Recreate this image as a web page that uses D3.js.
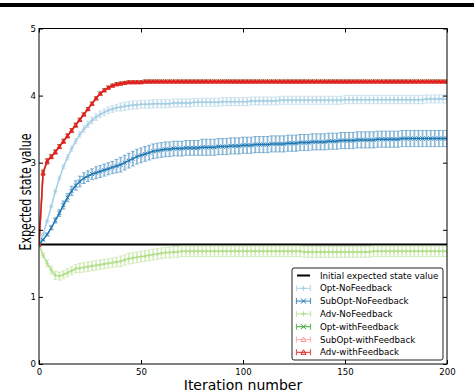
<!DOCTYPE html>
<html><head><meta charset="utf-8">
<script src="https://cdn.jsdelivr.net/npm/d3@7"></script>
<style>body{margin:0;background:#fff} svg{display:block} text{font-family:"DejaVu Sans",sans-serif;fill:#000}</style>
</head><body><svg id="c" width="474" height="392"></svg>
<script>
// ---------- data ----------
const iterations = d3.range(0, 201, 2);
const xTicks = [0, 50, 100, 150, 200];
const yTicks = [0, 1, 2, 3, 4, 5];
const initialValue = 1.78;

const optNoFeedback = [
 1.78,1.93,2.13,2.35,2.57,2.77,2.94,3.08,3.21,3.32,
 3.42,3.50,3.57,3.63,3.68,3.72,3.75,3.78,3.80,3.82,
 3.83,3.84,3.85,3.86,3.86,3.87,3.87,3.87,3.88,3.88,
 3.88,3.88,3.88,3.89,3.89,3.89,3.89,3.89,3.90,3.90,
 3.90,3.90,3.90,3.90,3.90,3.91,3.91,3.91,3.91,3.91,
 3.91,3.91,3.92,3.92,3.92,3.92,3.92,3.92,3.92,3.93,
 3.93,3.93,3.93,3.93,3.93,3.93,3.93,3.93,3.93,3.93,
 3.93,3.93,3.93,3.93,3.93,3.94,3.94,3.94,3.94,3.94,
 3.94,3.94,3.94,3.94,3.94,3.94,3.94,3.94,3.94,3.94,
 3.94,3.94,3.94,3.94,3.94,3.95,3.95,3.95,3.95,3.95,
 3.95];
const optNoFeedbackErr = [
 0.00,0.01,0.02,0.02,0.03,0.03,0.03,0.04,0.04,0.04,
 0.04,0.05,0.05,0.05,0.05,0.05,0.05,0.05,0.05,0.05,
 0.06,0.06,0.06,0.06,0.06,0.06,0.06,0.06,0.06,0.06,
 0.06,0.06,0.06,0.06,0.06,0.06,0.06,0.06,0.06,0.06,
 0.06,0.06,0.06,0.06,0.06,0.06,0.06,0.06,0.06,0.06,
 0.06,0.06,0.06,0.06,0.06,0.06,0.06,0.06,0.06,0.06,
 0.06,0.06,0.06,0.06,0.06,0.06,0.06,0.06,0.06,0.06,
 0.06,0.06,0.06,0.06,0.06,0.06,0.06,0.06,0.06,0.06,
 0.06,0.06,0.06,0.06,0.06,0.06,0.06,0.06,0.06,0.06,
 0.06,0.06,0.06,0.06,0.06,0.06,0.06,0.06,0.06,0.06,
 0.06];

const subOptNoFeedback = [
 1.78,1.85,1.93,2.03,2.14,2.25,2.37,2.48,2.58,2.66,
 2.72,2.77,2.80,2.83,2.85,2.87,2.89,2.91,2.93,2.95,
 2.97,3.00,3.03,3.06,3.09,3.11,3.13,3.15,3.17,3.18,
 3.19,3.20,3.20,3.21,3.21,3.21,3.22,3.22,3.22,3.22,
 3.23,3.23,3.23,3.23,3.24,3.24,3.24,3.25,3.25,3.25,
 3.26,3.26,3.26,3.27,3.27,3.27,3.27,3.28,3.28,3.28,
 3.28,3.29,3.29,3.29,3.30,3.30,3.30,3.31,3.31,3.31,
 3.31,3.32,3.32,3.32,3.33,3.33,3.33,3.33,3.34,3.34,
 3.34,3.34,3.34,3.35,3.35,3.35,3.35,3.35,3.35,3.36,
 3.36,3.36,3.36,3.36,3.36,3.36,3.36,3.36,3.36,3.36,
 3.36];
const subOptNoFeedbackErr = [
 0.00,0.01,0.02,0.03,0.04,0.05,0.06,0.06,0.07,0.07,
 0.08,0.08,0.08,0.08,0.09,0.09,0.09,0.09,0.09,0.10,
 0.11,0.11,0.11,0.11,0.11,0.11,0.11,0.11,0.11,0.11,
 0.11,0.11,0.11,0.11,0.11,0.11,0.11,0.11,0.11,0.11,
 0.12,0.12,0.12,0.12,0.12,0.12,0.12,0.12,0.12,0.12,
 0.12,0.12,0.12,0.12,0.12,0.12,0.12,0.12,0.12,0.12,
 0.12,0.12,0.12,0.12,0.12,0.12,0.12,0.12,0.12,0.12,
 0.12,0.12,0.12,0.12,0.12,0.12,0.12,0.12,0.12,0.12,
 0.12,0.12,0.12,0.12,0.12,0.12,0.12,0.12,0.12,0.12,
 0.12,0.12,0.12,0.12,0.12,0.12,0.12,0.12,0.12,0.12,
 0.12];

const advNoFeedback = [
 1.78,1.62,1.50,1.40,1.32,1.31,1.33,1.36,1.39,1.42,
 1.43,1.44,1.45,1.46,1.47,1.48,1.49,1.50,1.51,1.52,
 1.53,1.55,1.57,1.58,1.59,1.60,1.61,1.62,1.63,1.64,
 1.65,1.66,1.66,1.67,1.67,1.68,1.68,1.68,1.68,1.68,
 1.68,1.68,1.68,1.68,1.68,1.68,1.68,1.68,1.68,1.68,
 1.68,1.68,1.68,1.68,1.68,1.68,1.68,1.68,1.68,1.68,
 1.68,1.68,1.68,1.68,1.68,1.67,1.67,1.67,1.67,1.67,
 1.67,1.67,1.67,1.67,1.67,1.67,1.67,1.67,1.67,1.67,
 1.67,1.67,1.68,1.68,1.68,1.68,1.68,1.68,1.68,1.68,
 1.68,1.68,1.68,1.68,1.68,1.68,1.68,1.68,1.68,1.68,
 1.68];
const advNoFeedbackErr = [
 0.00,0.03,0.05,0.06,0.06,0.06,0.06,0.06,0.06,0.06,
 0.07,0.07,0.07,0.07,0.07,0.07,0.07,0.07,0.07,0.07,
 0.08,0.08,0.08,0.08,0.08,0.08,0.08,0.08,0.08,0.08,
 0.08,0.08,0.08,0.08,0.08,0.08,0.08,0.08,0.08,0.08,
 0.08,0.08,0.08,0.08,0.08,0.08,0.08,0.08,0.08,0.08,
 0.08,0.08,0.08,0.08,0.08,0.08,0.08,0.08,0.08,0.08,
 0.08,0.08,0.08,0.08,0.08,0.08,0.08,0.08,0.08,0.08,
 0.08,0.08,0.08,0.08,0.08,0.08,0.08,0.08,0.08,0.08,
 0.08,0.08,0.08,0.08,0.08,0.08,0.08,0.08,0.08,0.08,
 0.08,0.08,0.08,0.08,0.08,0.08,0.08,0.08,0.08,0.08,
 0.08];

const advWithFeedback = [
 1.78,2.85,3.02,3.09,3.16,3.24,3.32,3.40,3.48,3.56,
 3.64,3.72,3.80,3.88,3.96,4.03,4.08,4.12,4.15,4.17,
 4.18,4.19,4.20,4.20,4.20,4.20,4.21,4.21,4.21,4.21,
 4.21,4.21,4.21,4.21,4.21,4.21,4.21,4.21,4.21,4.21,
 4.21,4.21,4.21,4.21,4.21,4.21,4.21,4.21,4.21,4.21,
 4.21,4.21,4.21,4.21,4.21,4.21,4.21,4.21,4.21,4.21,
 4.21,4.21,4.21,4.21,4.21,4.21,4.21,4.21,4.21,4.21,
 4.21,4.21,4.21,4.21,4.21,4.21,4.21,4.21,4.21,4.21,
 4.21,4.21,4.21,4.21,4.21,4.21,4.21,4.21,4.21,4.21,
 4.21,4.21,4.21,4.21,4.21,4.21,4.21,4.21,4.21,4.21,
 4.21];
const advWithFeedbackErr = [
 0.00,0.04,0.04,0.03,0.03,0.03,0.03,0.03,0.03,0.03,
 0.02,0.02,0.02,0.02,0.02,0.02,0.02,0.02,0.02,0.02,
 0.02,0.02,0.02,0.02,0.02,0.02,0.02,0.02,0.02,0.02,
 0.02,0.02,0.02,0.02,0.02,0.02,0.02,0.02,0.02,0.02,
 0.02,0.02,0.02,0.02,0.02,0.02,0.02,0.02,0.02,0.02,
 0.02,0.02,0.02,0.02,0.02,0.02,0.02,0.02,0.02,0.02,
 0.02,0.02,0.02,0.02,0.02,0.02,0.02,0.02,0.02,0.02,
 0.02,0.02,0.02,0.02,0.02,0.02,0.02,0.02,0.02,0.02,
 0.02,0.02,0.02,0.02,0.02,0.02,0.02,0.02,0.02,0.02,
 0.02,0.02,0.02,0.02,0.02,0.02,0.02,0.02,0.02,0.02,
 0.02];
// with-feedback Opt / SubOpt coincide with Adv (hidden beneath the red curve)
const optWithFeedback = advWithFeedback.slice();
const subOptWithFeedback = advWithFeedback.slice();
const withFeedbackErr = advWithFeedbackErr.slice();

const seriesNames = ["Opt-NoFeedback","SubOpt-NoFeedback","Adv-NoFeedback","Opt-withFeedback","SubOpt-withFeedback","Adv-withFeedback"];
const seriesColors = ["#a6cee3","#1f78b4","#b2df8a","#33a02c","#fb9a99","#e31a1c"];
const seriesMarkers = ["plus","x","plus","x","tri","tri"];
const seriesMeans = [optNoFeedback, subOptNoFeedback, advNoFeedback, optWithFeedback, subOptWithFeedback, advWithFeedback];
const seriesErrs = [optNoFeedbackErr, subOptNoFeedbackErr, advNoFeedbackErr, withFeedbackErr, withFeedbackErr, advWithFeedbackErr];

// ---------- drawing ----------
const svg = d3.select('#c');
const W = 474;
const L = 39, R = 447, T = 28.5, B = 364;
const x = d3.scaleLinear().domain([0, 200]).range([L, R]);
const y = d3.scaleLinear().domain([0, 5]).range([B, T]);

svg.append('rect').attr('x', 0).attr('y', 3).attr('width', W).attr('height', 4).attr('fill', '#000');

svg.append('clipPath').attr('id', 'clip').append('rect')
  .attr('x', L).attr('y', T).attr('width', R - L).attr('height', B - T);
const plot = svg.append('g').attr('clip-path', 'url(#clip)');

plot.append('line').attr('x1', x(0)).attr('x2', x(200))
  .attr('y1', y(initialValue)).attr('y2', y(initialValue))
  .attr('stroke', '#000').attr('stroke-width', 2);

function markerPath(type, cx, cy, s) {
  if (type === 'plus') return `M${cx - s},${cy}h${2 * s}M${cx},${cy - s}v${2 * s}`;
  if (type === 'x') return `M${cx - s},${cy - s}l${2 * s},${2 * s}M${cx - s},${cy + s}l${2 * s},${-2 * s}`;
  return `M${cx},${cy - s}L${cx + s},${cy + s * 0.8}L${cx - s},${cy + s * 0.8}Z`;
}

seriesNames.forEach((name, k) => {
  const mean = seriesMeans[k], err = seriesErrs[k], color = seriesColors[k];
  const pts = iterations.map((it, i) => ({it, m: mean[i], e: err[i]}));
  const g = plot.append('g');
  const eb = g.append('g').attr('stroke', color).attr('stroke-opacity', 0.5);
  eb.selectAll('line.v').data(pts).join('line').attr('class', 'v')
    .attr('stroke-width', 1.8)
    .attr('x1', d => x(d.it)).attr('x2', d => x(d.it))
    .attr('y1', d => y(d.m - d.e)).attr('y2', d => y(d.m + d.e));
  eb.selectAll('line.c1').data(pts).join('line').attr('class', 'c1')
    .attr('stroke-width', 1)
    .attr('x1', d => x(d.it) - 2).attr('x2', d => x(d.it) + 2)
    .attr('y1', d => y(d.m - d.e)).attr('y2', d => y(d.m - d.e));
  eb.selectAll('line.c2').data(pts).join('line').attr('class', 'c2')
    .attr('stroke-width', 1)
    .attr('x1', d => x(d.it) - 2).attr('x2', d => x(d.it) + 2)
    .attr('y1', d => y(d.m + d.e)).attr('y2', d => y(d.m + d.e));
  g.append('path').datum(pts)
    .attr('d', d3.line().x(d => x(d.it)).y(d => y(d.m)))
    .attr('fill', 'none').attr('stroke', color).attr('stroke-width', 1.5);
  g.append('path')
    .attr('d', pts.map(d => markerPath(seriesMarkers[k], x(d.it), y(d.m), 2)).join(''))
    .attr('fill', 'none').attr('stroke', color).attr('stroke-width', 0.9);
});

// axes (inward ticks on all sides)
const fs = 8.6;
const axB = svg.append('g').attr('transform', `translate(0,${B})`)
  .call(d3.axisBottom(x).tickValues(xTicks).tickSize(-4).tickPadding(5));
const axT = svg.append('g').attr('transform', `translate(0,${T})`)
  .call(d3.axisTop(x).tickValues(xTicks).tickSize(-4).tickFormat(''));
const axL = svg.append('g').attr('transform', `translate(${L},0)`)
  .call(d3.axisLeft(y).tickValues(yTicks).tickSize(-4).tickPadding(3).tickFormat(d3.format('d')));
const axR = svg.append('g').attr('transform', `translate(${R},0)`)
  .call(d3.axisRight(y).tickValues(yTicks).tickSize(-4).tickFormat(''));
[axB, axT, axL, axR].forEach(a => {
  a.select('.domain').remove();
  a.selectAll('line').attr('stroke', '#000');
  a.selectAll('text').attr('font-family', 'DejaVu Sans').attr('font-size', fs).attr('fill', '#000');
});
svg.append('rect').attr('x', L).attr('y', T).attr('width', R - L).attr('height', B - T)
  .attr('fill', 'none').attr('stroke', '#000').attr('stroke-width', 1);

svg.append('text').attr('x', 243).attr('y', 390).attr('text-anchor', 'middle')
  .attr('font-size', 14).text('Iteration number');
svg.append('text').attr('transform', 'translate(30.5,192) rotate(-90)').attr('text-anchor', 'middle')
  .attr('font-size', 15).attr('textLength', 117).attr('lengthAdjust', 'spacingAndGlyphs')
  .text('Expected state value');

// legend
const lg = svg.append('g');
lg.append('rect').attr('x', 292).attr('y', 268).attr('width', 151).attr('height', 92)
  .attr('rx', 2).attr('fill', '#fff').attr('stroke', '#222').attr('stroke-width', 1);
const rowY = k => 275.5 + k * 12.8;
lg.append('line').attr('x1', 297).attr('x2', 310).attr('y1', rowY(0)).attr('y2', rowY(0))
  .attr('stroke', '#000').attr('stroke-width', 2);
lg.append('text').attr('x', 320).attr('y', rowY(0)).attr('dy', '0.35em').attr('font-size', 8.7)
  .text('Initial expected state value');
seriesNames.forEach((name, k) => {
  const cy = rowY(k + 1), c = seriesColors[k];
  const gg = lg.append('g').attr('stroke', c).attr('fill', 'none');
  gg.append('path').attr('d', `M296,${cy}H311M296.5,${cy - 3}v6M310.5,${cy - 3}v6`)
    .attr('stroke-opacity', 0.75).attr('stroke-width', 1.2);
  gg.append('path').attr('d', markerPath(seriesMarkers[k], 303.5, cy, 2.5)).attr('stroke-width', 1);
  lg.append('text').attr('x', 320).attr('y', cy).attr('dy', '0.35em').attr('font-size', 8.7).text(name);
});
</script></body></html>
